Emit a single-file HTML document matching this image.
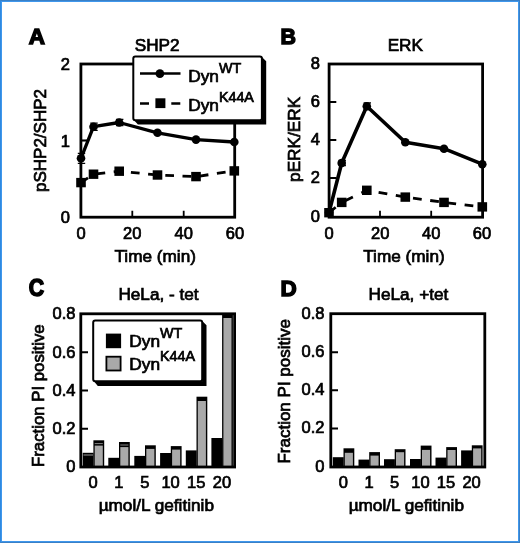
<!DOCTYPE html>
<html><head><meta charset="utf-8"><title>Figure</title>
<style>
html,body{margin:0;padding:0;background:#fff;}
body{width:520px;height:543px;overflow:hidden;position:relative;}
.frame{position:absolute;left:0;top:0;width:520px;height:543px;box-sizing:border-box;
 border:1px solid #3a80c6;border-left-color:#2e89e0;box-shadow:inset 1px 1px 0 #3f97ec, inset -1px -1px 0 #3f97ec;}
svg{position:absolute;left:0;top:0;}
svg text{font-family:"Liberation Sans",Arial,Helvetica,sans-serif;fill:#000;stroke:#000;stroke-width:0.72px;}
</style></head><body>
<div class="frame"></div>
<svg width="520" height="543" viewBox="0 0 520 543">
<g id="pA">
<text transform="translate(28.7,44.3) scale(1.06,1.0)" font-size="21.2" font-weight="bold" style="stroke-width:1.4px">A</text>
<text x="157.2" y="51.2" font-size="17.2" text-anchor="middle" >SHP2</text>
<rect x="80.9" y="64" width="153.79999999999998" height="153.2" fill="none" stroke="#000" stroke-width="2.8"/>
<path d="M80.9,140.5 h7.2" stroke="#000" stroke-width="2.1" fill="none"/>
<path d="M132.3,217.2 v-6.5M183.7,217.2 v-6.5" stroke="#000" stroke-width="1.8" fill="none"/>
<text x="70" y="70.1" font-size="16.5" text-anchor="end" >2</text>
<text x="70" y="146.6" font-size="16.5" text-anchor="end" >1</text>
<text x="70" y="223.1" font-size="16.5" text-anchor="end" >0</text>
<text x="81" y="238.6" font-size="16.5" text-anchor="middle" >0</text>
<text x="132.3" y="238.6" font-size="16.5" text-anchor="middle" >20</text>
<text x="183.7" y="238.6" font-size="16.5" text-anchor="middle" >40</text>
<text x="235" y="238.6" font-size="16.5" text-anchor="middle" >60</text>
<text x="155.2" y="261.8" font-size="17.2" text-anchor="middle" >Time (min)</text>
<text transform="translate(46.4,140.5) rotate(-90)" font-size="17" text-anchor="middle">pSHP2/SHP2</text>
<path d="M81.00,182.60 L88.00,177.90 M96.50,173.85 L105.20,172.83 M113.70,171.84 L119.20,171.20 L122.40,171.52 M130.90,172.36 L139.60,173.22 M148.10,174.07 L156.80,174.93 M165.30,175.32 L174.00,175.69 M182.50,176.04 L191.20,176.40 M199.70,176.05 L208.40,174.75 M216.90,173.49 L225.60,172.19 M234.10,170.93 L234.30,170.90 " fill="none" stroke="#000" stroke-width="2.8"/>
<path d="M81,179.6 V185.6 M77.8,179.6 h7.4 M77.8,185.6 h7.4" stroke="#000" stroke-width="1.3" fill="none"/>
<rect x="76.2" y="177.9" width="9.6" height="9.4" fill="#000"/>
<path d="M93.5,171.2 V177.2 M90.3,171.2 h7.4 M90.3,177.2 h7.4" stroke="#000" stroke-width="1.3" fill="none"/>
<rect x="88.7" y="169.5" width="9.6" height="9.4" fill="#000"/>
<path d="M119.2,168.2 V174.2 M116.0,168.2 h7.4 M116.0,174.2 h7.4" stroke="#000" stroke-width="1.3" fill="none"/>
<rect x="114.4" y="166.5" width="9.6" height="9.4" fill="#000"/>
<path d="M157.5,172 V178 M154.3,172 h7.4 M154.3,178 h7.4" stroke="#000" stroke-width="1.3" fill="none"/>
<rect x="152.7" y="170.3" width="9.6" height="9.4" fill="#000"/>
<path d="M196,173.6 V179.6 M192.8,173.6 h7.4 M192.8,179.6 h7.4" stroke="#000" stroke-width="1.3" fill="none"/>
<rect x="191.2" y="171.9" width="9.6" height="9.4" fill="#000"/>
<path d="M234.3,167.9 V173.9 M231.10000000000002,167.9 h7.4 M231.10000000000002,173.9 h7.4" stroke="#000" stroke-width="1.3" fill="none"/>
<rect x="229.5" y="166.20000000000002" width="9.6" height="9.4" fill="#000"/>
<path d="M81,158.3 L93.5,126.7 L119.2,122.5 L157.5,132.8 L196,139.6 L234.3,142" fill="none" stroke="#000" stroke-width="3.3" stroke-linejoin="round"/>
<path d="M81,153.3 V163.3 M77.8,153.3 h7.4 M77.8,163.3 h7.4" stroke="#000" stroke-width="1.3" fill="none"/>
<circle cx="81" cy="158.3" r="4.3" fill="#000"/>
<path d="M93.5,123.10000000000001 V130.3 M90.3,123.10000000000001 h7.4 M90.3,130.3 h7.4" stroke="#000" stroke-width="1.3" fill="none"/>
<circle cx="93.5" cy="126.7" r="4.3" fill="#000"/>
<path d="M119.2,119.3 V125.7 M116.0,119.3 h7.4 M116.0,125.7 h7.4" stroke="#000" stroke-width="1.3" fill="none"/>
<circle cx="119.2" cy="122.5" r="4.3" fill="#000"/>
<circle cx="157.5" cy="132.8" r="4.3" fill="#000"/>
<circle cx="196" cy="139.6" r="4.3" fill="#000"/>
<circle cx="234.3" cy="142" r="4.3" fill="#000"/>
<path d="M133.60000000000002,119.7 L137.90000000000003,124.4 H266.2 V61.199999999999996 L261.9,56.9 V120.2 Z" fill="#000"/>
<rect x="133.3" y="56.4" width="128.59999999999997" height="63.800000000000004" rx="2" fill="#fff" stroke="#000" stroke-width="2"/>
<path d="M140,73.5 H180.5" stroke="#000" stroke-width="2.5" fill="none"/><circle cx="159.9" cy="73.6" r="4.4" fill="#000"/>
<path d="M140,103.5 h9 M171.3,103.5 h9" stroke="#000" stroke-width="2.6" fill="none"/><rect x="155.4" y="98.3" width="10" height="9.8" fill="#000"/>
<text x="188.2" y="81.5" font-size="17.3" text-anchor="start">Dyn<tspan font-size="14.3" dy="-8.9">WT</tspan></text>
<text x="188.2" y="111.3" font-size="17.3" text-anchor="start">Dyn<tspan font-size="14.3" dy="-8.9">K44A</tspan></text>
</g>
<g id="pB">
<text transform="translate(280.6,44.2) scale(1.01,1.0)" font-size="21.2" font-weight="bold" style="stroke-width:1.4px">B</text>
<text x="405.3" y="51.3" font-size="17.2" text-anchor="middle" >ERK</text>
<rect x="329.1" y="64" width="153.5" height="153.2" fill="none" stroke="#000" stroke-width="2.8"/>
<path d="M329.1,102 h7.2M329.1,140 h7.2M329.1,178 h7.2" stroke="#000" stroke-width="2.1" fill="none"/>
<path d="M380,217.2 v-6.5M431.2,217.2 v-6.5" stroke="#000" stroke-width="1.8" fill="none"/>
<text x="320" y="68.6" font-size="16.5" text-anchor="end" >8</text>
<text x="320" y="106.6" font-size="16.5" text-anchor="end" >6</text>
<text x="320" y="144.6" font-size="16.5" text-anchor="end" >4</text>
<text x="320" y="182.6" font-size="16.5" text-anchor="end" >2</text>
<text x="320" y="221.79999999999998" font-size="16.5" text-anchor="end" >0</text>
<text x="329" y="238.6" font-size="16.5" text-anchor="middle" >0</text>
<text x="380.3" y="238.6" font-size="16.5" text-anchor="middle" >20</text>
<text x="431.2" y="238.6" font-size="16.5" text-anchor="middle" >40</text>
<text x="482" y="238.6" font-size="16.5" text-anchor="middle" >60</text>
<text x="404" y="261.8" font-size="17.2" text-anchor="middle" >Time (min)</text>
<text transform="translate(299.8,139.4) rotate(-90)" font-size="17.2" text-anchor="middle">pERK/ERK</text>
<path d="M329.00,212.70 L335.70,207.27 M344.20,201.19 L352.90,197.00 M361.40,192.90 L366.80,190.30 L370.10,190.88 M378.60,192.38 L387.30,193.92 M395.80,195.42 L404.50,196.96 M413.00,198.15 L421.70,199.35 M430.20,200.51 L438.90,201.70 M447.40,202.80 L456.10,203.82 M464.60,204.82 L473.30,205.84 M481.80,206.84 L482.30,206.90 " fill="none" stroke="#000" stroke-width="2.8"/>
<rect x="324.2" y="208.0" width="9.6" height="9.4" fill="#000"/>
<path d="M341.7,199.4 V205.4 M338.5,199.4 h7.4 M338.5,205.4 h7.4" stroke="#000" stroke-width="1.3" fill="none"/>
<rect x="336.9" y="197.70000000000002" width="9.6" height="9.4" fill="#000"/>
<path d="M366.8,187.3 V193.3 M363.6,187.3 h7.4 M363.6,193.3 h7.4" stroke="#000" stroke-width="1.3" fill="none"/>
<rect x="362.0" y="185.60000000000002" width="9.6" height="9.4" fill="#000"/>
<path d="M405.3,194.1 V200.1 M402.1,194.1 h7.4 M402.1,200.1 h7.4" stroke="#000" stroke-width="1.3" fill="none"/>
<rect x="400.5" y="192.4" width="9.6" height="9.4" fill="#000"/>
<path d="M444,199.4 V205.4 M440.8,199.4 h7.4 M440.8,205.4 h7.4" stroke="#000" stroke-width="1.3" fill="none"/>
<rect x="439.2" y="197.70000000000002" width="9.6" height="9.4" fill="#000"/>
<path d="M482.3,203.9 V209.9 M479.1,203.9 h7.4 M479.1,209.9 h7.4" stroke="#000" stroke-width="1.3" fill="none"/>
<rect x="477.5" y="202.20000000000002" width="9.6" height="9.4" fill="#000"/>
<path d="M329,212.5 L341.7,163 L366.8,106.2 L405.3,142.3 L444,148.7 L482.3,164.2" fill="none" stroke="#000" stroke-width="3.6" stroke-linejoin="round"/>
<circle cx="329" cy="212.5" r="4.3" fill="#000"/>
<path d="M341.7,160.5 V165.5 M338.5,160.5 h7.4 M338.5,165.5 h7.4" stroke="#000" stroke-width="1.3" fill="none"/>
<circle cx="341.7" cy="163" r="4.3" fill="#000"/>
<path d="M366.8,102.8 V109.60000000000001 M363.6,102.8 h7.4 M363.6,109.60000000000001 h7.4" stroke="#000" stroke-width="1.3" fill="none"/>
<circle cx="366.8" cy="106.2" r="4.3" fill="#000"/>
<circle cx="405.3" cy="142.3" r="4.3" fill="#000"/>
<circle cx="444" cy="148.7" r="4.3" fill="#000"/>
<circle cx="482.3" cy="164.2" r="4.3" fill="#000"/>
</g>
<g id="pC">
<text transform="translate(28.8,296) scale(0.96,1.09)" font-size="22.2" font-weight="bold" style="stroke-width:1.4px">C</text>
<text x="158.5" y="300" font-size="17.2" text-anchor="middle" >HeLa, - tet</text>
<rect x="82.7" y="452.8" width="10.899999999999999" height="14.199999999999989" fill="#000"/>
<rect x="93.4" y="440.3" width="10.8" height="26.69999999999999" fill="#000"/>
<rect x="94.70" y="445.6" width="8.10" height="20.50" fill="#a9a9a9"/>
<path d="M94.70,443.6 h8.10" stroke="#bbb" stroke-width="0.7"/>
<rect x="108.3" y="457.8" width="10.899999999999999" height="9.199999999999989" fill="#000"/>
<rect x="119.0" y="442" width="10.8" height="25" fill="#000"/>
<rect x="120.30" y="447.1" width="8.10" height="19.00" fill="#a9a9a9"/>
<path d="M120.30,445 h8.10" stroke="#bbb" stroke-width="0.7"/>
<rect x="134.3" y="455.9" width="10.899999999999999" height="11.100000000000023" fill="#000"/>
<rect x="145.0" y="445.3" width="10.8" height="21.69999999999999" fill="#000"/>
<rect x="146.30" y="448.9" width="8.10" height="17.20" fill="#a9a9a9"/>
<rect x="160.1" y="453" width="10.899999999999999" height="14" fill="#000"/>
<rect x="170.79999999999998" y="446.1" width="10.8" height="20.899999999999977" fill="#000"/>
<rect x="172.10" y="449.6" width="8.10" height="16.50" fill="#a9a9a9"/>
<rect x="185.8" y="450.4" width="10.899999999999999" height="16.600000000000023" fill="#000"/>
<rect x="196.5" y="396.7" width="10.8" height="70.30000000000001" fill="#000"/>
<rect x="197.80" y="401" width="8.10" height="65.10" fill="#a9a9a9"/>
<rect x="211.4" y="438" width="10.899999999999999" height="29" fill="#000"/>
<rect x="222.1" y="314" width="10.8" height="153" fill="#000"/>
<rect x="223.40" y="318" width="8.10" height="148.10" fill="#a9a9a9"/>
<path d="M83.5,455 h9.5" stroke="#ddd" stroke-width="0.7"/>
<rect x="80.8" y="313.8" width="153.8" height="153.2" fill="none" stroke="#000" stroke-width="2.8"/>
<path d="M80.8,352.2 h7.2M80.8,390.5 h7.2M80.8,428.7 h7.2" stroke="#000" stroke-width="2.1" fill="none"/>
<text x="75.5" y="319.3" font-size="16.5" text-anchor="end" >0.8</text>
<text x="75.5" y="357.5" font-size="16.5" text-anchor="end" >0.6</text>
<text x="75.5" y="395.8" font-size="16.5" text-anchor="end" >0.4</text>
<text x="75.5" y="434.0" font-size="16.5" text-anchor="end" >0.2</text>
<text x="75.5" y="472.3" font-size="16.5" text-anchor="end" >0</text>
<text x="93.2" y="487.5" font-size="16.5" text-anchor="middle" >0</text>
<text x="118.8" y="487.5" font-size="16.5" text-anchor="middle" >1</text>
<text x="144.8" y="487.5" font-size="16.5" text-anchor="middle" >5</text>
<text x="170.6" y="487.5" font-size="16.5" text-anchor="middle" >10</text>
<text x="196.3" y="487.5" font-size="16.5" text-anchor="middle" >15</text>
<text x="221.9" y="487.5" font-size="16.5" text-anchor="middle" >20</text>
<text x="156.3" y="510.9" font-size="17.2" text-anchor="middle" >µmol/L gefitinib</text>
<text transform="translate(43.8,395.7) rotate(-90)" font-size="16.8" text-anchor="middle">Fraction PI positive</text>
<path d="M93.5,380.8 L97.8,386.1 H206.5 V325.3 L202.2,321.0 V381.3 Z" fill="#000"/>
<rect x="93.2" y="320.5" width="108.99999999999999" height="60.80000000000001" rx="2" fill="#fff" stroke="#000" stroke-width="2"/>
<rect x="105.9" y="333.6" width="15.2" height="14.6" fill="#000"/>
<rect x="106.4" y="356.7" width="14.2" height="13.8" fill="#a9a9a9" stroke="#000" stroke-width="1.8"/>
<text x="129.3" y="346.7" font-size="17.3" text-anchor="start">Dyn<tspan font-size="14.3" dy="-9.1">WT</tspan></text>
<text x="129.3" y="369.7" font-size="17.3" text-anchor="start">Dyn<tspan font-size="14.3" dy="-8.6">K44A</tspan></text>
</g>
<g id="pD">
<text transform="translate(280.6,295.7) scale(1.06,1.0)" font-size="21.2" font-weight="bold" style="stroke-width:1.4px">D</text>
<text x="408.4" y="300" font-size="17.2" text-anchor="middle" >HeLa, +tet</text>
<rect x="332.8" y="457.2" width="10.899999999999999" height="9.800000000000011" fill="#000"/>
<rect x="343.5" y="448.3" width="10.8" height="18.69999999999999" fill="#000"/>
<rect x="344.80" y="452.8" width="8.10" height="13.30" fill="#a9a9a9"/>
<rect x="358.5" y="459.6" width="10.899999999999999" height="7.399999999999977" fill="#000"/>
<rect x="369.2" y="452.1" width="10.8" height="14.899999999999977" fill="#000"/>
<rect x="370.50" y="455.6" width="8.10" height="10.50" fill="#a9a9a9"/>
<rect x="384" y="459.2" width="10.899999999999999" height="7.800000000000011" fill="#000"/>
<rect x="394.7" y="449.2" width="10.8" height="17.80000000000001" fill="#000"/>
<rect x="396.00" y="452.2" width="8.10" height="13.90" fill="#a9a9a9"/>
<rect x="410" y="459" width="10.899999999999999" height="8" fill="#000"/>
<rect x="420.7" y="445.6" width="10.8" height="21.399999999999977" fill="#000"/>
<rect x="422.00" y="449.9" width="8.10" height="16.20" fill="#a9a9a9"/>
<rect x="435.5" y="457.6" width="10.899999999999999" height="9.399999999999977" fill="#000"/>
<rect x="446.2" y="447.1" width="10.8" height="19.899999999999977" fill="#000"/>
<rect x="447.50" y="450" width="8.10" height="16.10" fill="#a9a9a9"/>
<rect x="461.1" y="450.4" width="10.899999999999999" height="16.600000000000023" fill="#000"/>
<rect x="471.8" y="445.3" width="10.8" height="21.69999999999999" fill="#000"/>
<rect x="473.10" y="448.4" width="8.10" height="17.70" fill="#a9a9a9"/>
<rect x="330.8" y="313.7" width="154.0" height="153.3" fill="none" stroke="#000" stroke-width="2.8"/>
<path d="M330.8,352.2 h7.2M330.8,390.3 h7.2M330.8,428.5 h7.2" stroke="#000" stroke-width="2.1" fill="none"/>
<text x="324.5" y="318.8" font-size="16.5" text-anchor="end" >0.8</text>
<text x="324.5" y="357.0" font-size="16.5" text-anchor="end" >0.6</text>
<text x="324.5" y="395.1" font-size="16.5" text-anchor="end" >0.4</text>
<text x="324.5" y="433.3" font-size="16.5" text-anchor="end" >0.2</text>
<text x="324.5" y="471.8" font-size="16.5" text-anchor="end" >0</text>
<text x="343.3" y="487.5" font-size="16.5" text-anchor="middle" >0</text>
<text x="369.0" y="487.5" font-size="16.5" text-anchor="middle" >1</text>
<text x="394.5" y="487.5" font-size="16.5" text-anchor="middle" >5</text>
<text x="420.5" y="487.5" font-size="16.5" text-anchor="middle" >10</text>
<text x="446.0" y="487.5" font-size="16.5" text-anchor="middle" >15</text>
<text x="471.6" y="487.5" font-size="16.5" text-anchor="middle" >20</text>
<text x="406.3" y="510.6" font-size="17.2" text-anchor="middle" >µmol/L gefitinib</text>
<text transform="translate(290.2,391.3) rotate(-90)" font-size="17" text-anchor="middle">Fraction PI positive</text>
</g>
</svg>
</body></html>
